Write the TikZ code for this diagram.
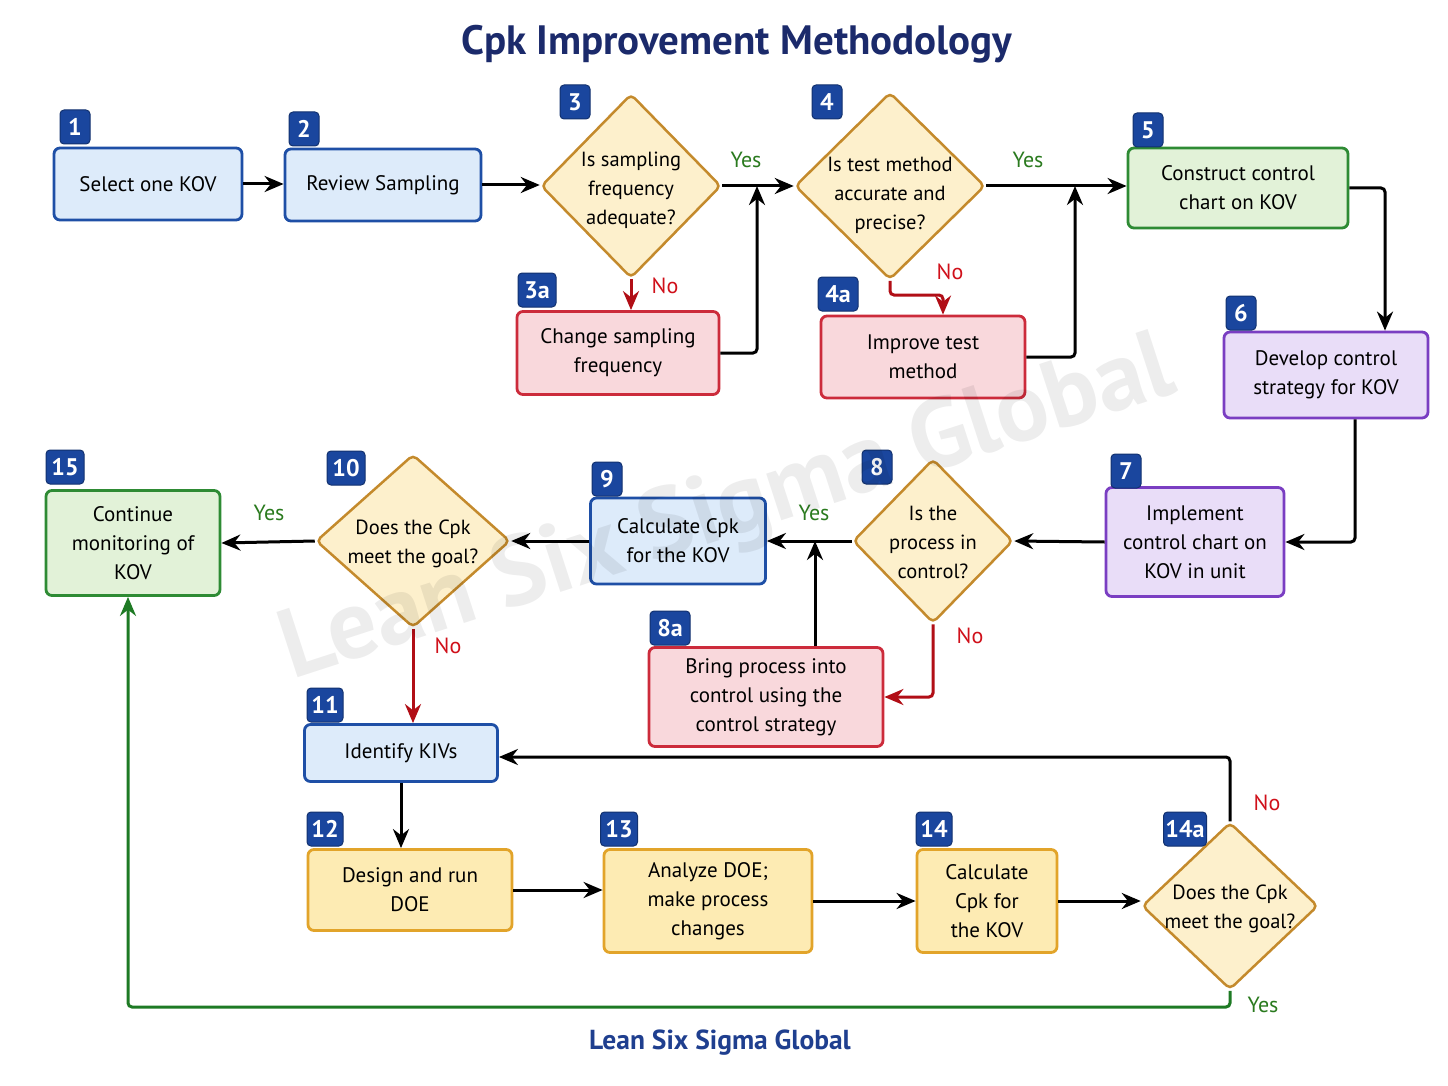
\documentclass[tikz,border=0pt]{standalone}
\usepackage{fontspec}
\setmainfont{PT Sans}
\usetikzlibrary{shapes.geometric,arrows.meta}
\definecolor{bluefill}{HTML}{DDEBFA}
\definecolor{blueline}{HTML}{1E4FA6}
\definecolor{redfill}{HTML}{F9D8DC}
\definecolor{redline}{HTML}{CC2B3B}
\definecolor{ambfill}{HTML}{FDF0CC}
\definecolor{ambline}{HTML}{C48A2C}
\definecolor{yelfill}{HTML}{FDEBB3}
\definecolor{yelline}{HTML}{E2A42A}
\definecolor{grnfill}{HTML}{E2F2D8}
\definecolor{grnline}{HTML}{2E8B34}
\definecolor{purfill}{HTML}{E9DDF8}
\definecolor{purline}{HTML}{7A3EC2}
\definecolor{badgeblue}{HTML}{1A469E}
\definecolor{navy}{HTML}{1B2A6B}
\definecolor{footblue}{HTML}{1F3F8F}
\definecolor{yesg}{HTML}{2A7A1E}
\definecolor{nor}{HTML}{D0101A}
\definecolor{loopg}{HTML}{1E7A24}
\begin{document}
\begin{tikzpicture}[x=1pt,y=-1pt,
  every node/.style={font=\fontsize{21}{29}\selectfont},
  box/.style={draw, rounded corners=6pt, line width=2.8pt, align=center, inner sep=0pt},
  bluebox/.style={box, fill=bluefill, draw=blueline},
  redbox/.style={box, fill=redfill, draw=redline},
  yelbox/.style={box, fill=yelfill, draw=yelline},
  grnbox/.style={box, fill=grnfill, draw=grnline},
  purbox/.style={box, fill=purfill, draw=purline},
  decision/.style={diamond, draw=ambline, fill=ambfill, line width=2.5pt, rounded corners=5pt, inner sep=0pt},
  dtext/.style={align=center, font=\fontsize{20.5}{29}\selectfont},
  badge/.style={fill=badgeblue, draw=badgeblue!70!black, line width=1pt, rounded corners=4pt, text=white, inner sep=0pt, minimum height=34pt, font=\fontsize{24}{24}\selectfont\bfseries},
  arr/.style={line width=3pt, -{Stealth[length=19pt,width=16pt]}, rounded corners=4pt},
  redarr/.style={arr, draw=nor!85!black},
  grnarr/.style={arr, draw=loopg},
  yes/.style={text=yesg, font=\fontsize{22}{22}\selectfont},
  no/.style={text=nor, font=\fontsize{22}{22}\selectfont}
]
\useasboundingbox (0,0) rectangle (1448,1086);
\fill[white] (0,0) rectangle (1448,1086);

% title
\node[text=navy, font=\fontsize{41}{41}\selectfont\bfseries] (title) at (737,44) {Cpk Improvement Methodology};

% boxes
\node[bluebox, minimum width=188pt, minimum height=72pt] (n1) at (148,184) {Select one KOV};
\node[bluebox, minimum width=196pt, minimum height=72pt] (n2) at (383,185) {Review Sampling};
\node[decision, minimum width=180pt, minimum height=184pt] (n3) at (631,186) {};
\node[dtext, yshift=-4pt] (t3) at (n3) {Is sampling\\frequency\\adequate?};
\node[redbox, minimum width=202pt, minimum height=83pt] (n3a) at (618,353) {Change sampling\\frequency};
\node[decision, minimum width=190pt, minimum height=187pt] (n4) at (890,186) {};
\node[dtext, yshift=-9pt] (t4) at (n4) {Is test method\\accurate and\\precise?};
\node[redbox, minimum width=204pt, minimum height=82pt] (n4a) at (923,357) {Improve test\\method};
\node[grnbox, minimum width=220pt, minimum height=80pt] (n5) at (1238,188) {Construct control\\chart on KOV};
\node[purbox, minimum width=204pt, minimum height=86pt] (n6) at (1326,375) {Develop control\\strategy for KOV};
\node[purbox, minimum width=178pt, minimum height=109pt] (n7) at (1195,542) {Implement\\control chart on\\KOV in unit};
\node[decision, minimum width=160pt, minimum height=164pt] (n8) at (933,541) {};
\node[dtext, yshift=-1pt] (t8) at (n8) {Is the\\process in\\control?};
\node[redbox, minimum width=234pt, minimum height=99pt] (n8a) at (766,697) {Bring process into\\control using the\\control strategy};
\node[bluebox, minimum width=175pt, minimum height=86pt] (n9) at (678,541) {Calculate Cpk\\for the KOV};
\node[decision, minimum width=194pt, minimum height=173pt] (n10) at (413,541) {};
\node[dtext, yshift=-3pt] (t10) at (n10) {Does the Cpk\\meet the goal?};
\node[grnbox, minimum width=174pt, minimum height=105pt] (n15) at (133,543) {Continue\\monitoring of\\KOV};
\node[bluebox, minimum width=193pt, minimum height=57pt] (n11) at (401,753) {Identify KIVs};
\node[yelbox, minimum width=204pt, minimum height=81pt] (n12) at (410,890) {Design and run\\DOE};
\node[yelbox, minimum width=208pt, minimum height=103pt] (n13) at (708,901) {Analyze DOE;\\make process\\changes};
\node[yelbox, minimum width=140pt, minimum height=103pt] (n14) at (987,901) {Calculate\\Cpk for\\the KOV};
\node[decision, minimum width=176pt, minimum height=167pt] (n14a) at (1230,906) {};
\node[dtext, yshift=-3pt] (t14a) at (n14a) {Does the Cpk\\meet the goal?};

% badges
\node[badge, minimum width=30pt] (b1) at (75,127) {1};
\node[badge, minimum width=30pt] (b2) at (304,129) {2};
\node[badge, minimum width=30pt] (b3) at (575,102) {3};
\node[badge, minimum width=30pt] (b4) at (827,102) {4};
\node[badge, minimum width=30pt] (b5) at (1148,130) {5};
\node[badge, minimum width=30pt] (b6) at (1241,313) {6};
\node[badge, minimum width=30pt] (b7) at (1126,471) {7};
\node[badge, minimum width=30pt] (b8) at (877,467) {8};
\node[badge, minimum width=30pt] (b9) at (607,479) {9};
\node[badge, minimum width=38pt] (b10) at (346,468) {10};
\node[badge, minimum width=38pt] (b15) at (65,467) {15};
\node[badge, minimum width=38pt] (b3a) at (537,290) {3a};
\node[badge, minimum width=40pt] (b4a) at (838,294) {4a};
\node[badge, minimum width=40pt] (b8a) at (670,628) {8a};
\node[badge, minimum width=36pt] (b11) at (325,705) {11};
\node[badge, minimum width=36pt] (b12) at (325,829) {12};
\node[badge, minimum width=37pt] (b13) at (619,829) {13};
\node[badge, minimum width=36pt] (b14) at (934,829) {14};
\node[badge, minimum width=43pt] (b14a) at (1185,829) {14a};

% helper coordinates
\coordinate (m1) at (757,186);
\coordinate (m2) at (1075,186);
\coordinate (c4) at (943,295);
\coordinate (k5) at (1385,188);
\coordinate (k6) at (1355,418);
\coordinate (m3) at (815,541);
\coordinate (k15) at (128,1007);
\coordinate (k14) at (1230,757);

% connectors
\draw[arr] (n1.east) -- (n1.east -| n2.west);
\draw[arr] (n2.east) -- (n2.east -| n3.west);
\draw[arr] (n3.east) -- (n4.west);
\draw[redarr] (n3.south) -- (n3.south |- n3a.north);
\draw[arr] (n3a.east) -| (m1);
\draw[arr] (n4.east) -- (n4.east -| n5.west);
\draw[redarr] (n4.south) |- (c4) -- (c4 |- n4a.north);
\draw[arr] (n4a.east) -| (m2);
\draw[arr] (n5.east) -- (k5) -- (k5 |- n6.north);
\draw[arr] (k6 |- n6.south) |- (n7.east);
\draw[arr] (n7.west) -- (n8.east);
\draw[arr] (n8.west) -- (n9.east);
\draw[redarr] (n8.south) |- (n8a.east);
\draw[arr] (m3 |- n8a.north) -- (m3);
\draw[arr] (n9.west) -- (n10.east);
\draw[arr] (n10.west) -- (n15.east);
\draw[redarr] (n10.south) -- (n10.south |- n11.north);
\draw[arr] (n11.south) -- (n11.south |- n12.north);
\draw[arr] (n12.east) -- (n12.east -| n13.west);
\draw[arr] (n13.east) -- (n13.east -| n14.west);
\draw[arr] (n14.east) -- (n14.east -| n14a.west);
\draw[arr] (n14a.north) -- (k14) -- (k14 -| n11.east);
\draw[grnarr] (n14a.south) |- (k15) -- (k15 |- n15.south);

% labels
\node[yes] (y1) at (746,160) {Yes};
\node[yes] (y2) at (1028,160) {Yes};
\node[no] (o1) at (665,286) {No};
\node[no] (o2) at (950,272) {No};
\node[yes] (y3) at (814,513) {Yes};
\node[no] (o3) at (970,636) {No};
\node[yes] (y4) at (269,513) {Yes};
\node[no] (o4) at (448,646) {No};
\node[no] (o5) at (1267,803) {No};
\node[yes] (y5) at (1263,1005) {Yes};

% footer
\node[text=footblue, font=\fontsize{27.5}{27.5}\selectfont\bfseries] (foot) at (720,1043) {Lean Six Sigma Global};

% watermark
\node[text=black, opacity=0.07, rotate=18, font=\fontsize{98}{98}\selectfont\bfseries] (wm) at (728,512) {Lean Six Sigma Global};
\end{tikzpicture}
\end{document}
